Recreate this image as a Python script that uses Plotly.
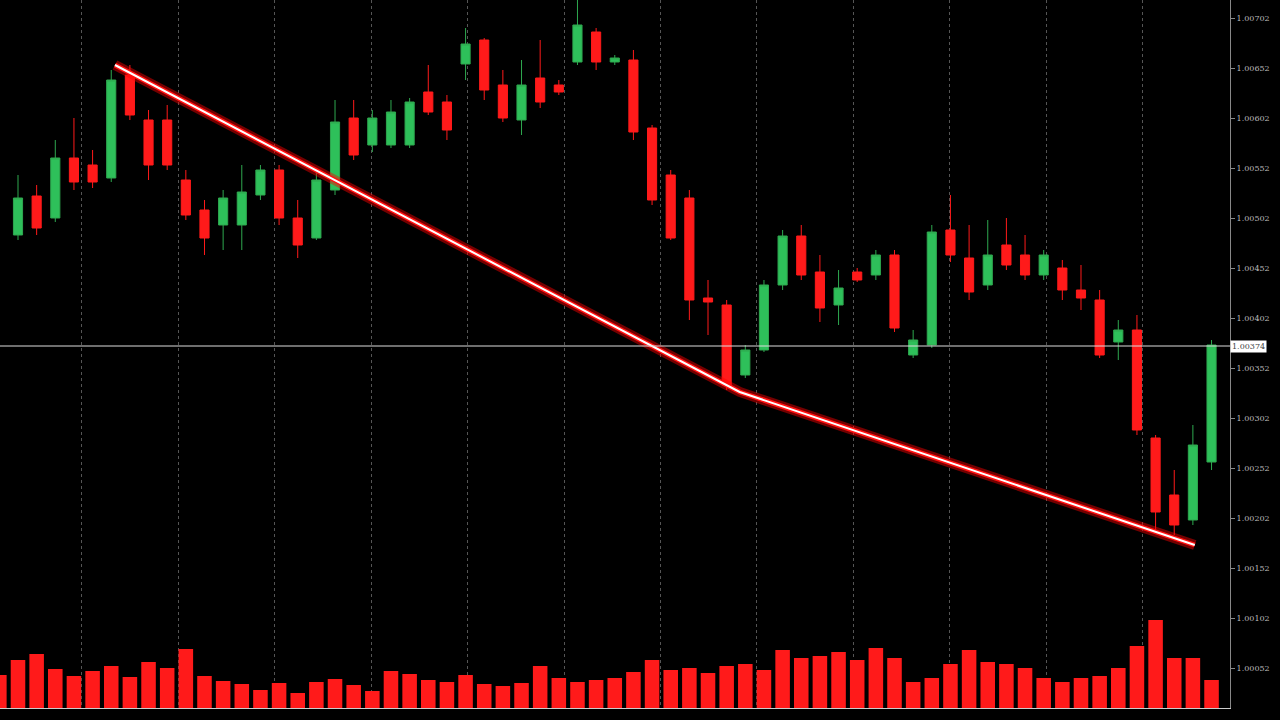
import plotly.graph_objects as go

# candle data (price units), index = bar number
opens  = [1.00485, 1.00524, 1.00502, 1.00562, 1.00555, 1.00542, 1.00645, 1.00600, 1.00600, 1.00540,
          1.00510, 1.00495, 1.00495, 1.00525, 1.00550, 1.00502, 1.00482, 1.00530, 1.00602, 1.00575,
          1.00575, 1.00575, 1.00628, 1.00618, 1.00656, 1.00680, 1.00635, 1.00600, 1.00642, 1.00635,
          1.00658, 1.00688, 1.00658, 1.00660, 1.00592, 1.00545, 1.00522, 1.00422, 1.00415, 1.00345,
          1.00370, 1.00435, 1.00484, 1.00448, 1.00415, 1.00448, 1.00445, 1.00465, 1.00365, 1.00375,
          1.00490, 1.00462, 1.00435, 1.00475, 1.00465, 1.00445, 1.00452, 1.00430, 1.00420, 1.00378,
          1.00390, 1.00282, 1.00225, 1.00200, 1.00258]
closes = [1.00522, 1.00492, 1.00562, 1.00538, 1.00538, 1.00640, 1.00605, 1.00555, 1.00555, 1.00505,
          1.00482, 1.00522, 1.00528, 1.00550, 1.00502, 1.00475, 1.00540, 1.00598, 1.00565, 1.00602,
          1.00608, 1.00618, 1.00608, 1.00590, 1.00676, 1.00630, 1.00602, 1.00635, 1.00618, 1.00628,
          1.00695, 1.00658, 1.00662, 1.00588, 1.00520, 1.00482, 1.00420, 1.00418, 1.00335, 1.00370,
          1.00435, 1.00484, 1.00445, 1.00412, 1.00432, 1.00440, 1.00465, 1.00392, 1.00380, 1.00488,
          1.00465, 1.00428, 1.00465, 1.00455, 1.00445, 1.00465, 1.00430, 1.00422, 1.00365, 1.00390,
          1.00290, 1.00208, 1.00195, 1.00275, 1.00375]
highs  = [1.00545, 1.00535, 1.00580, 1.00602, 1.00570, 1.00650, 1.00655, 1.00610, 1.00615, 1.00550,
          1.00520, 1.00530, 1.00555, 1.00555, 1.00555, 1.00520, 1.00548, 1.00620, 1.00620, 1.00610,
          1.00620, 1.00622, 1.00655, 1.00625, 1.00692, 1.00682, 1.00650, 1.00660, 1.00680, 1.00640,
          1.00720, 1.00692, 1.00665, 1.00670, 1.00595, 1.00550, 1.00530, 1.00440, 1.00420, 1.00375,
          1.00440, 1.00490, 1.00495, 1.00465, 1.00450, 1.00452, 1.00470, 1.00470, 1.00390, 1.00495,
          1.00525, 1.00495, 1.00500, 1.00502, 1.00485, 1.00470, 1.00460, 1.00455, 1.00430, 1.00400,
          1.00405, 1.00285, 1.00250, 1.00295, 1.00380]
lows   = [1.00480, 1.00485, 1.00498, 1.00530, 1.00532, 1.00538, 1.00600, 1.00540, 1.00550, 1.00500,
          1.00465, 1.00470, 1.00470, 1.00520, 1.00495, 1.00462, 1.00480, 1.00525, 1.00560, 1.00568,
          1.00572, 1.00572, 1.00605, 1.00580, 1.00640, 1.00620, 1.00598, 1.00585, 1.00612, 1.00625,
          1.00655, 1.00650, 1.00655, 1.00580, 1.00515, 1.00480, 1.00400, 1.00385, 1.00330, 1.00342,
          1.00368, 1.00430, 1.00440, 1.00398, 1.00395, 1.00438, 1.00440, 1.00388, 1.00362, 1.00372,
          1.00458, 1.00420, 1.00430, 1.00450, 1.00440, 1.00440, 1.00420, 1.00410, 1.00362, 1.00360,
          1.00285, 1.00190, 1.00185, 1.00195, 1.00250]

volumes = [33, 48, 54, 39, 32, 37, 42, 31, 46, 40, 59, 32, 27, 24, 18, 25, 15, 26, 29, 23,
           17, 37, 34, 28, 26, 33, 24, 22, 25, 42, 30, 26, 28, 30, 36, 48, 38, 40, 35, 42,
           44, 38, 58, 50, 52, 56, 48, 60, 50, 26, 30, 44, 58, 46, 44, 40, 30, 26, 30, 32,
           40, 62, 88, 50, 50, 28]

# trend line: (bar index, price)
trend_x = [5.2, 38.7, 63.1]
trend_y = [1.00655, 1.00328, 1.00175]

last_price = 1.00374
price_ticks = [1.00702 - 0.0005 * k for k in range(14)]
tick_text = [f"{v:.5f}" for v in price_ticks]

idx = list(range(len(opens)))
vol_x = [i - 1 for i in range(len(volumes))]

fig = go.Figure()
fig.add_trace(go.Bar(x=vol_x, y=volumes, yaxis="y2", marker=dict(color="#ff1a1a", line=dict(width=0)),
                     width=0.78, showlegend=False))
fig.add_trace(go.Candlestick(x=idx, open=opens, high=highs, low=lows, close=closes,
                             increasing=dict(line=dict(color="#2ea84f", width=1), fillcolor="#2ec05a"),
                             decreasing=dict(line=dict(color="#ff1a1a", width=1), fillcolor="#ff1a1a"),
                             whiskerwidth=0, showlegend=False))
fig.add_trace(go.Scatter(x=trend_x, y=trend_y, mode="lines", line=dict(color="rgba(255,0,0,0.45)", width=10),
                         showlegend=False))
fig.add_trace(go.Scatter(x=trend_x, y=trend_y, mode="lines", line=dict(color="#ff1010", width=5),
                         showlegend=False))
fig.add_trace(go.Scatter(x=trend_x, y=trend_y, mode="lines", line=dict(color="#ffffff", width=2),
                         showlegend=False))

fig.add_hline(y=last_price, line=dict(color="#dddddd", width=1))
fig.add_annotation(x=1, xref="paper", xanchor="left", y=last_price, yref="y", text=f"{last_price:.5f}",
                   showarrow=False, bgcolor="#ffffff", font=dict(color="#444", size=8, family="DejaVu Serif"),
                   borderpad=1)

fig.update_layout(
    width=1280, height=720,
    paper_bgcolor="#000000", plot_bgcolor="#000000",
    margin=dict(l=0, r=50, t=0, b=12, autoexpand=False),
    bargap=0.2,
    xaxis=dict(range=[-0.965, 64.99], rangeslider=dict(visible=False), showticklabels=False,
               tick0=3.43, dtick=5.17, showgrid=True, gridcolor="#555555", griddash="dot", gridwidth=1,
               zeroline=False, showline=True, linecolor="#cccccc"),
    yaxis=dict(side="right", range=[1.00012, 1.0072], tickvals=price_ticks, ticktext=tick_text,
               showgrid=False, zeroline=False, showline=True, linecolor="#888888",
               ticks="outside", ticklen=4, tickcolor="#888888",
               tickfont=dict(color="#bbbbbb", size=8, family="DejaVu Serif")),
    yaxis2=dict(overlaying="y", range=[0, 708], visible=False),
)

fig.write_html("out.html", config={"displayModeBar": False},
               post_script="document.body.style.margin='0';document.body.style.background='#000';")
